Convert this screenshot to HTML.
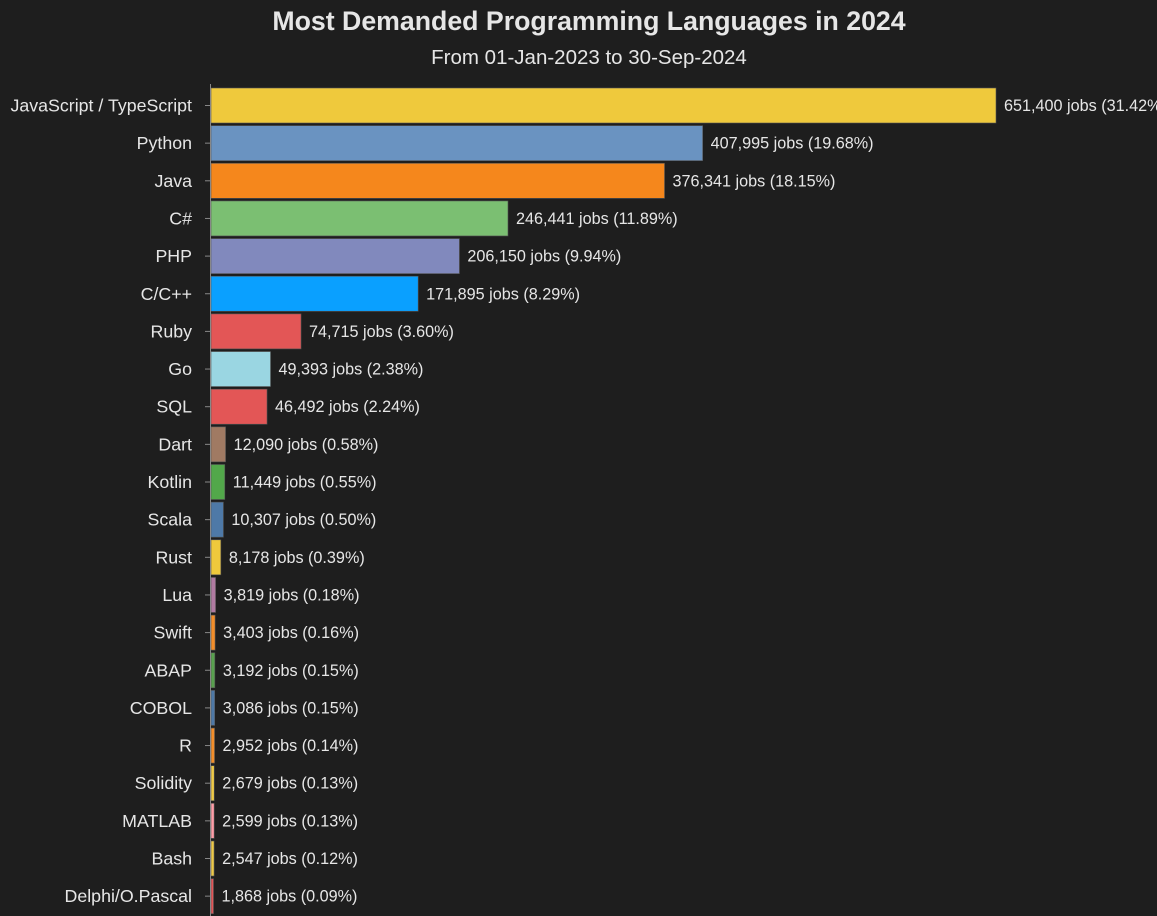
<!DOCTYPE html>
<html><head><meta charset="utf-8"><style>
html,body{margin:0;padding:0;background:#1e1e1e;}
svg{display:block;font-family:"Liberation Sans",Arial,sans-serif;}
</style></head><body>
<svg id="chart" width="1157" height="916">
<rect width="1157" height="916" fill="#1e1e1e"/>
<text x="589" y="30" text-anchor="middle" fill="#e6e6e6" font-size="26.7" font-weight="bold">Most Demanded Programming Languages in 2024</text>
<text x="589" y="64" text-anchor="middle" fill="#e6e6e6" font-size="20.5">From 01-Jan-2023 to 30-Sep-2024</text>
<g id="bars"></g>
<line x1="210.5" y1="84" x2="210.5" y2="916" stroke="#888" stroke-width="1"/>
</svg>
<script>
const categories=["JavaScript / TypeScript","Python","Java","C#","PHP","C/C++","Ruby","Go","SQL","Dart","Kotlin","Scala","Rust","Lua","Swift","ABAP","COBOL","R","Solidity","MATLAB","Bash","Delphi/O.Pascal"];
const jobs=[651400,407995,376341,246441,206150,171895,74715,49393,46492,12090,11449,10307,8178,3819,3403,3192,3086,2952,2679,2599,2547,1868];
const percents=["31.42%","19.68%","18.15%","11.89%","9.94%","8.29%","3.60%","2.38%","2.24%","0.58%","0.55%","0.50%","0.39%","0.18%","0.16%","0.15%","0.15%","0.14%","0.13%","0.13%","0.12%","0.09%"];
const colors=["#efc93c","#6a93c1","#f5871c","#7bbf72","#8189bd","#0aa0ff","#e35656","#9ad6e2","#e35656","#a07a63","#52a84a","#4e79a7","#efc93c","#b07aa1","#f28e2b","#59a14f","#4e79a7","#f28e2b","#edc948","#ff9da7","#edc948","#e15759"];
const x0=211, xScale=785/651400;
const yTop=88, step=37.65, bh=35;
const x=v=>x0+v*xScale;
const y=i=>yTop+i*step;
const g=document.getElementById('bars');
const NS="http://www.w3.org/2000/svg";
categories.forEach((c,i)=>{
  const r=document.createElementNS(NS,'rect');
  
  
  r.setAttribute('x',x0);r.setAttribute('y',y(i));
  r.setAttribute('width',Math.max(x(jobs[i])-x0,2.5));r.setAttribute('height',bh);
  r.setAttribute('fill',colors[i]);r.setAttribute('stroke','#555');r.setAttribute('stroke-width','0.6');
  g.appendChild(r);
  const t=document.createElementNS(NS,'line');
  
  
  t.setAttribute('x1',205);t.setAttribute('x2',210);
  t.setAttribute('y1',y(i)+bh/2);t.setAttribute('y2',y(i)+bh/2);t.setAttribute('stroke','#888');
  g.appendChild(t);
  const l=document.createElementNS(NS,'text');
  
  
  l.setAttribute('x',192);l.setAttribute('y',y(i)+bh/2+6);
  l.setAttribute('text-anchor','end');l.setAttribute('fill','#e6e6e6');l.setAttribute('font-size','17.8');
  l.textContent=c;g.appendChild(l);
  const v=document.createElementNS(NS,'text');
  
  
  v.setAttribute('x',Math.max(x(jobs[i]),x0+2.5)+8);v.setAttribute('y',y(i)+bh/2+5.5);
  v.setAttribute('fill','#e6e6e6');v.setAttribute('font-size','16.2');
  v.textContent=jobs[i].toLocaleString('en-US')+' jobs ('+percents[i]+')';g.appendChild(v);
});
</script>
</body></html>
